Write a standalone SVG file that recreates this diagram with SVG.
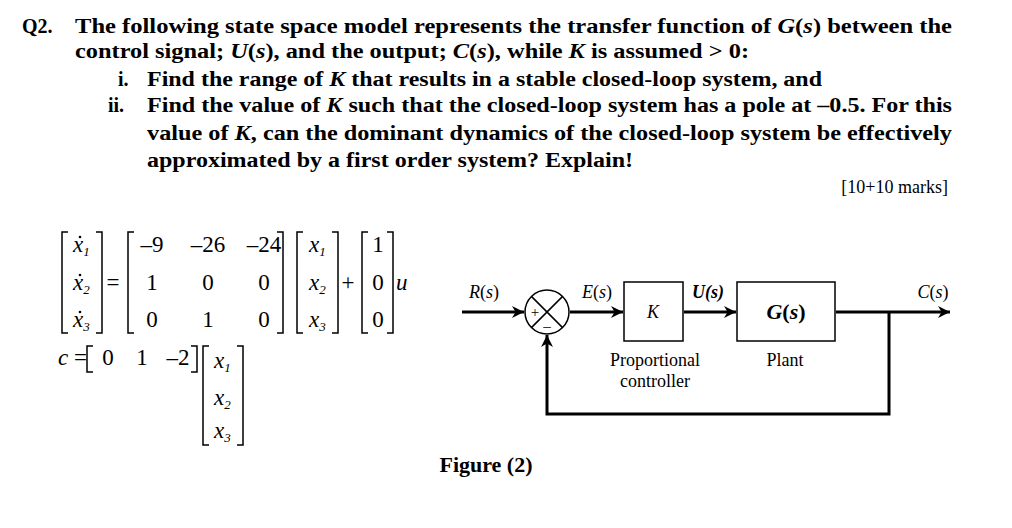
<svg xmlns="http://www.w3.org/2000/svg" width="1012" height="528" viewBox="0 0 1012 528">
<style>
.h{font-family:"Liberation Serif",serif;font-weight:bold;font-size:20px;fill:#000}
.t{font-family:"Liberation Serif",serif;font-size:23px;fill:#000}
.s{font-family:"Liberation Serif",serif;font-size:18px;fill:#000}
.i{font-style:italic}
.sub{font-size:13px}
.br{fill:none;stroke:#000;stroke-width:1.5}
.ln{fill:none;stroke:#000;stroke-width:3}
.bx{fill:#fff;stroke:#000;stroke-width:1.5}
</style>
<defs>
<marker id="a" viewBox="0 0 10 10" refX="10" refY="5" markerWidth="6" markerHeight="4" orient="auto" markerUnits="strokeWidth"><path d="M0,0 L10,5 L0,10 L3,5 z" fill="#000"/></marker>
</defs>
<rect width="1012" height="528" fill="#fff"/>
<g id="question">
<text class="h" x="22" y="33">Q2.</text>
<text class="h" x="75" y="33" textLength="877" lengthAdjust="spacingAndGlyphs">The following state space model represents the transfer function of <tspan class="i">G</tspan>(<tspan class="i">s</tspan>) between the</text>
<text class="h" x="75" y="58" textLength="674" lengthAdjust="spacingAndGlyphs">control signal; <tspan class="i">U</tspan>(<tspan class="i">s</tspan>), and the output; <tspan class="i">C</tspan>(<tspan class="i">s</tspan>), while <tspan class="i">K</tspan> is assumed &gt; 0:</text>
<text class="h" x="118" y="86">i.</text>
<text class="h" x="147" y="86" textLength="675" lengthAdjust="spacingAndGlyphs">Find the range of <tspan class="i">K</tspan> that results in a stable closed-loop system, and</text>
<text class="h" x="108" y="112">ii.</text>
<text class="h" x="147" y="112" textLength="805" lengthAdjust="spacingAndGlyphs">Find the value of <tspan class="i">K</tspan> such that the closed-loop system has a pole at –0.5. For this</text>
<text class="h" x="147" y="140" textLength="805" lengthAdjust="spacingAndGlyphs">value of <tspan class="i">K</tspan>, can the dominant dynamics of the closed-loop system be effectively</text>
<text class="h" x="147" y="167" textLength="486" lengthAdjust="spacingAndGlyphs">approximated by a first order system? Explain!</text>
<text class="s" x="948" y="193" text-anchor="end">[10+10 marks]</text>
</g>
<g id="state-equation">
<path class="br" d="M68,232 H62 V333 H68 M96,232 H102 V333 H96"/>
<text x="73" y="252" class="t i">x<tspan class="sub" dy="4">1</tspan></text>
<text x="73" y="290" class="t i">x<tspan class="sub" dy="4">2</tspan></text>
<text x="73" y="327" class="t i">x<tspan class="sub" dy="4">3</tspan></text>
<circle cx="80" cy="237" r="1.3"/><circle cx="80" cy="275" r="1.3"/><circle cx="80" cy="312" r="1.3"/>
<text class="t" x="113" y="290" text-anchor="middle">=</text>
<path class="br" d="M134,232 H128 V333 H134 M277,232 H283 V333 H277"/>
<g class="t" text-anchor="middle">
<text x="152" y="252">–9</text><text x="208" y="252">–26</text><text x="264" y="252">–24</text>
<text x="152" y="290">1</text><text x="208" y="290">0</text><text x="264" y="290">0</text>
<text x="152" y="327">0</text><text x="208" y="327">1</text><text x="264" y="327">0</text>
</g>
<path class="br" d="M303,232 H297 V333 H303 M332,232 H338 V333 H332"/>
<text class="t i" x="309" y="252">x<tspan class="sub" dy="4">1</tspan></text>
<text class="t i" x="309" y="290">x<tspan class="sub" dy="4">2</tspan></text>
<text class="t i" x="309" y="327">x<tspan class="sub" dy="4">3</tspan></text>
<text class="t" x="348" y="290" text-anchor="middle">+</text>
<path class="br" d="M368,232 H362 V333 H368 M387,232 H393 V333 H387"/>
<g class="t" text-anchor="middle">
<text x="378" y="252">1</text><text x="378" y="290">0</text><text x="378" y="327">0</text>
</g>
<text class="t i" x="396" y="290">u</text>
</g>
<g id="output-equation">
<text class="t" x="58" y="365"><tspan class="i">c</tspan> =</text>
<path class="br" d="M93,346 H87 V372 H93 M191,346 H197 V372 H191"/>
<g class="t" text-anchor="middle">
<text x="108" y="365">0</text><text x="142" y="365">1</text><text x="178" y="365">–2</text>
</g>
<path class="br" d="M209,346 H203 V445 H209 M237,346 H243 V445 H237"/>
<text class="t i" x="214" y="368">x<tspan class="sub" dy="4">1</tspan></text>
<text class="t i" x="214" y="405">x<tspan class="sub" dy="4">2</tspan></text>
<text class="t i" x="214" y="438">x<tspan class="sub" dy="4">3</tspan></text>
</g>
<g id="connectors">
<line class="ln" x1="462" y1="312" x2="524" y2="312" marker-end="url(#a)"/>
<line class="ln" x1="570" y1="312" x2="623" y2="312" marker-end="url(#a)"/>
<line class="ln" x1="684" y1="312" x2="736" y2="312" marker-end="url(#a)"/>
<line class="ln" x1="836" y1="312" x2="950" y2="312" marker-end="url(#a)"/>
<polyline class="ln" points="889,312 889,414 547,414 547,335" marker-end="url(#a)"/>
</g>
<g id="summer">
<circle class="bx" cx="547" cy="312" r="22"/>
<path class="br" d="M531.4,296.4 L562.6,327.6 M562.6,296.4 L531.4,327.6"/>
<text class="s" x="535" y="317" text-anchor="middle" style="font-size:15px">+</text>
<text class="s" x="547" y="331" text-anchor="middle" style="font-size:15px">–</text>
</g>
<g id="controller">
<rect class="bx" x="624" y="282" width="59" height="59"/>
<text class="s i" x="653" y="318" text-anchor="middle">K</text>
<text class="s" x="655" y="366" text-anchor="middle">Proportional</text>
<text class="s" x="655" y="387" text-anchor="middle">controller</text>
</g>
<g id="plant">
<rect class="bx" x="737" y="282" width="98" height="59"/>
<text class="t" x="786" y="319" text-anchor="middle" style="font-weight:bold;font-size:22px"><tspan class="i">G</tspan>(<tspan class="i">s</tspan>)</text>
<text class="s" x="785" y="366" text-anchor="middle">Plant</text>
</g>
<g id="labels">
<text class="s" x="484" y="298" text-anchor="middle"><tspan class="i">R</tspan>(<tspan class="i">s</tspan>)</text>
<text class="s" x="597" y="298" text-anchor="middle"><tspan class="i">E</tspan>(<tspan class="i">s</tspan>)</text>
<text class="s i" x="708" y="298" text-anchor="middle" style="font-weight:bold">U(s)</text>
<text class="s" x="933" y="298" text-anchor="middle"><tspan class="i">C</tspan>(<tspan class="i">s</tspan>)</text>
<text class="h" x="486" y="472" text-anchor="middle" style="font-size:22px">Figure (2)</text>
</g>
</svg>
